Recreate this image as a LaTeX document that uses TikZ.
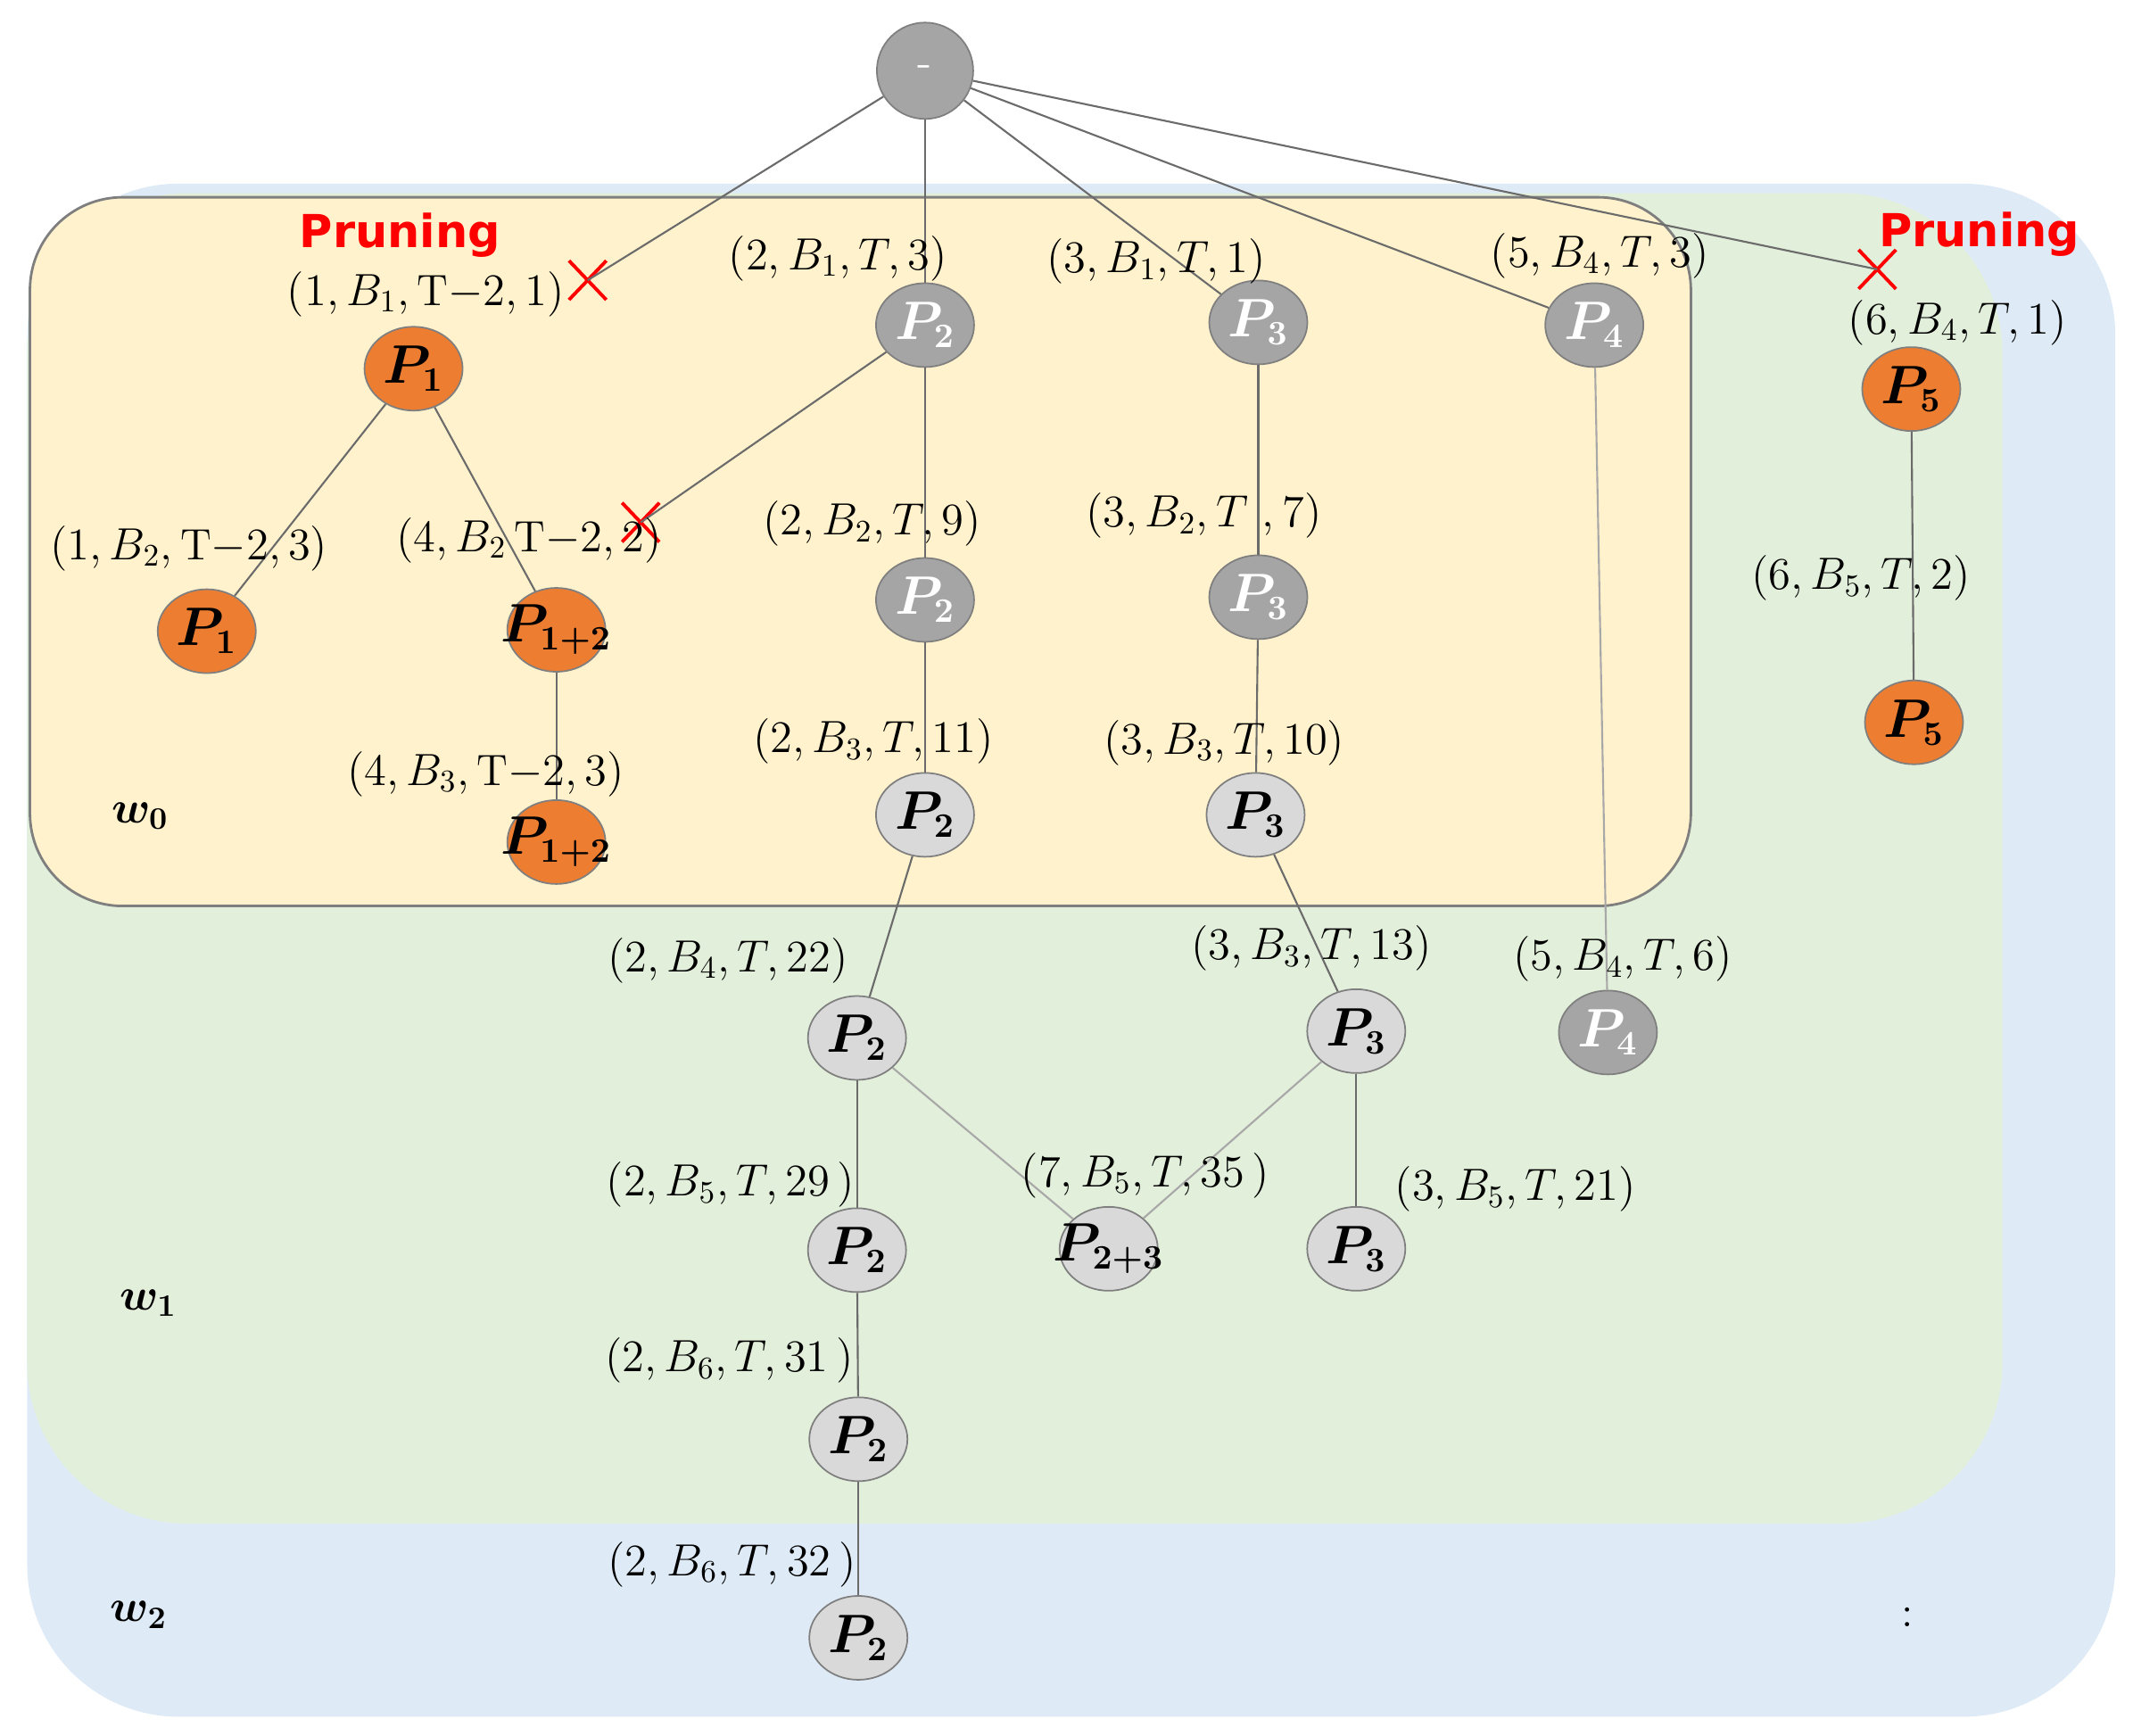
\documentclass[tikz,border=0pt]{standalone}
\usepackage{fontspec}
\usepackage{amsmath}
\usetikzlibrary{shapes.geometric,shapes.misc}
\newfontfamily\prunefont{DejaVu Sans}
\definecolor{tangerine}{HTML}{ED7D31}
\definecolor{slate}{HTML}{A5A5A5}
\definecolor{pale}{HTML}{D9D9D9}
\definecolor{cream}{HTML}{FFF2CC}
\definecolor{sage}{HTML}{E2EFDA}
\definecolor{sky}{HTML}{DEEBF7}
\definecolor{rim}{HTML}{7F7F7F}
\definecolor{linegray}{HTML}{6B6B6B}
\definecolor{lightline}{HTML}{A8A8A8}

\begin{document}
\begin{tikzpicture}[x=0.1525mm,y=-0.1525mm,
    procnode/.style={ellipse,draw=rim,line width=0.5pt,inner sep=0pt,minimum width=11mm,minimum height=9.4mm,font=\fontsize{16}{18}\selectfont\boldmath},
    hotnode/.style={procnode,fill=tangerine},
    busynode/.style={procnode,fill=slate,text=white},
    idlenode/.style={procnode,fill=pale},
    tag/.style={font=\fontsize{14}{16}\selectfont,inner sep=0pt},
    wtag/.style={font=\fontsize{14}{16}\selectfont\boldmath,inner sep=0pt},
    prunetxt/.style={font={\prunefont\bfseries\fontsize{14.5}{16}\selectfont},text=red,inner sep=0pt},
    cutmark/.style={cross out,draw=red,line width=1.1pt,minimum width=3.8mm,minimum height=4mm,inner sep=0pt},
    wire/.style={draw=linegray,line width=0.6pt},
    wirelt/.style={draw=lightline,line width=0.6pt}]
        \useasboundingbox (0,0) rectangle (1568,1276);
        \fill[sky,rounded corners=17mm] (20,135) rectangle (1555,1262);
        \fill[sage,rounded corners=18mm] (20,142) rectangle (1472,1120);
        \filldraw[fill=cream,draw=rim,line width=0.8pt,rounded corners=10.4mm] (22,145) rectangle (1243,666);

        \node[busynode,circle,minimum size=10.8mm,font=\fontsize{14}{16}\selectfont] (root) at (680,52) {-};
        \node[hotnode] (a1) at (304,271) {$P_1$};
        \node[busynode] (b1) at (680,239) {$P_2$};
        \node[busynode] (c1) at (925,237) {$P_3$};
        \node[busynode] (d1) at (1172,239) {$P_4$};
        \node[hotnode] (e1) at (1405,286) {$P_5$};
        \node[hotnode] (a2) at (152,464) {$P_1$};
        \node[hotnode] (a3) at (409,463) {\makebox[0pt]{$P_{1+2}$}};
        \node[busynode] (b2) at (680,441) {$P_2$};
        \node[busynode] (c2) at (925,439) {$P_3$};
        \node[hotnode] (e2) at (1407,531) {$P_5$};
        \node[hotnode] (a4) at (409,619) {\makebox[0pt]{$P_{1+2}$}};
        \node[idlenode] (b3) at (680,599) {$P_2$};
        \node[idlenode] (c3) at (923,599) {$P_3$};
        \node[idlenode] (b4) at (630,763) {$P_2$};
        \node[idlenode] (c4) at (997,758) {$P_3$};
        \node[busynode] (d2) at (1182,759) {$P_4$};
        \node[idlenode] (b5) at (630,919) {$P_2$};
        \node[idlenode] (f1) at (815,918) {\makebox[0pt]{$P_{2+3}$}};
        \node[idlenode] (c5) at (997,918) {$P_3$};
        \node[idlenode] (b6) at (631,1058) {$P_2$};
        \node[idlenode] (b7) at (631,1204) {$P_2$};

        \node[prunetxt] (pr1) at (294,173) {Pruning};
        \node[prunetxt] (pr2) at (1455,172) {Pruning};
        \node[cutmark] (x1) at (432,206) {};
        \node[cutmark] (x2) at (471,384) {};
        \node[cutmark] (x3) at (1380,198) {};

        \draw[wire] (root) -- (x1.center);
        \draw[wire] (root) -- (b1);
        \draw[wire] (root) -- (c1);
        \draw[wire] (root) -- (d1);
        \draw[wire] (root) -- (x3.center);
        \draw[wire] (b1) -- (x2.center);
        \draw[wire] (a1) -- (a2);
        \draw[wire] (a1) -- (a3);
        \draw[wire] (a3) -- (a4);
        \draw[wire] (b1) -- (b2);
        \draw[wire] (b2) -- (b3);
        \draw[wire] (b3) -- (b4);
        \draw[wire] (c1) -- (c2);
        \draw[wire] (c2) -- (c3);
        \draw[wire] (c3) -- (c4);
        \draw[wirelt] (d1) -- (d2);
        \draw[wire] (e1) -- (e2);
        \draw[wirelt] (b4) -- (f1);
        \draw[wirelt] (c4) -- (f1);
        \draw[wire] (b4) -- (b5);
        \draw[wire] (c4) -- (c5);
        \draw[wire] (b5) -- (b6);
        \draw[wire] (b6) -- (b7);

        \node[tag] (t1) at (313,216) {$(1, B_1, \mathrm{T}{-}2, 1)$};
        \node[tag] (t2) at (616,190) {$(2, B_1, T,3)$};
        \node[tag] (t3) at (850,192) {$(3,B_1,T, 1)$};
        \node[tag] (t4) at (1176,188) {$(5,B_4,T, 3)$};
        \node[tag] (t5) at (1439,237) {$(6,B_4,T,1)$};
        \node[tag] (t6) at (139,403) {$(1, B_2, \mathrm{T}{-}2, 3)$};
        \node[tag] (t7) at (389,397) {$(4, B_2\,\mathrm{T}{-}2, 2)$};
        \node[tag] (t8) at (641,385) {$(2, B_2, T,9)$};
        \node[tag] (t9) at (885,379) {$(3, B_2, T\ ,7)$};
        \node[tag] (t10) at (1368,425) {$(6,B_5,T, 2)$};
        \node[tag] (t11) at (357,569) {$(4, B_3, \mathrm{T}{-}2, 3)$};
        \node[tag] (t12) at (642,545) {$(2, B_3, T, 11)$};
        \node[tag] (t13) at (900,546) {$(3, B_3, T, 10)$};
        \node[tag] (t14) at (535,706) {$(2, B_4, T,22)$};
        \node[tag] (t15) at (964,697) {$(3, B_3, T, 13)$};
        \node[tag] (t16) at (1193,705) {$(5,B_4,T, 6)$};
        \node[tag] (t17) at (537,871) {$(2, B_5, T, 29\,)$};
        \node[tag] (t18) at (842,864) {$(7, B_5, T, 35\,)$};
        \node[tag] (t19) at (1114,874) {$(3, B_5, T, 21)$};
        \node[tag] (t20) at (536,1000) {$(2, B_6, T, 31\,)$};
        \node[tag] (t21) at (538,1150) {$(2, B_6, T, 32\,)$};

        \node[wtag] (w0) at (103,600) {$w_0$};
        \node[wtag] (w1) at (109,958) {$w_1$};
        \node[wtag] (w2) at (102,1187) {$w_2$};
        \node[tag] (more) at (1402,1189) {:};
      \end{tikzpicture}
\end{document}
